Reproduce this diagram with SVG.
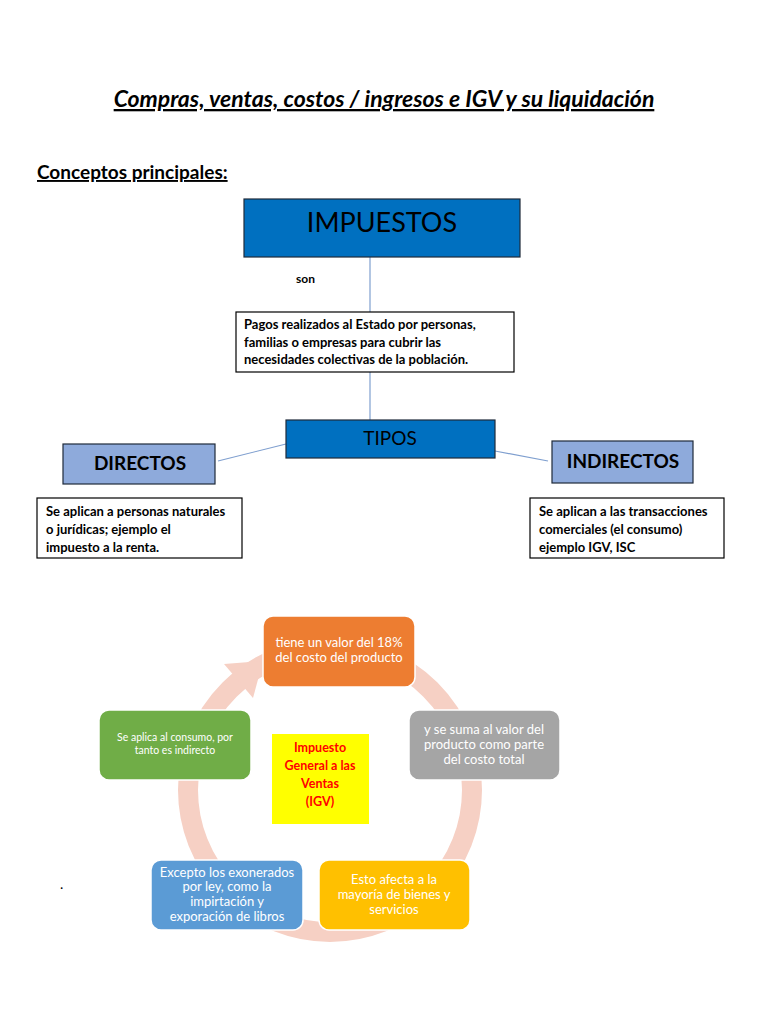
<svg xmlns="http://www.w3.org/2000/svg" width="768" height="1024" viewBox="0 0 768 1024">
<style>
text{font-family:Lato,"Open Sans","Liberation Sans",sans-serif;}
.dark{fill:#0070c0;stroke:#1f2a3a;stroke-width:1.2;}
.light{fill:#8eaadb;stroke:#1f2a3a;stroke-width:1.2;}
.wbox{fill:#fff;stroke:#000;stroke-width:1.2;}
.desc{font-size:13px;font-weight:bold;fill:#000;}
.conn{stroke:#7f9fcf;stroke-width:1.2;fill:none;}
.cyc{stroke:#fff;stroke-width:1.5;}
.ct{font-size:13px;fill:#fff;text-anchor:middle;}
.cs{font-size:10.5px;fill:#fff;text-anchor:middle;}
</style>
<rect width="768" height="1024" fill="#fff"/>
<text x="384" y="107" text-anchor="middle" font-size="23" font-weight="bold" font-style="italic" text-decoration="underline">Compras, ventas, costos / ingresos e IGV y su liquidación</text>
<text x="37" y="179" font-size="19" font-weight="bold" text-decoration="underline">Conceptos principales:</text>
<g id="connectors">
<line class="conn" x1="370" y1="257" x2="370" y2="312"/>
<line class="conn" x1="370" y1="372" x2="370" y2="420"/>
<line class="conn" x1="218" y1="461" x2="286" y2="444"/>
<line class="conn" x1="495" y1="451" x2="548" y2="461"/>
</g>
<text x="296" y="283" font-size="12" font-weight="bold">son</text>
<g id="impuestos"><rect class="dark" x="244" y="199" width="276" height="58"/><text x="382" y="232" text-anchor="middle" font-size="27" fill="#000">IMPUESTOS</text></g>
<g id="pagos"><rect class="wbox" x="236" y="312" width="278" height="60"/>
<text class="desc" x="244" y="329">Pagos realizados al Estado por personas,</text>
<text class="desc" x="244" y="347">familias o empresas para cubrir las</text>
<text class="desc" x="244" y="364">necesidades colectivas de la población.</text></g>
<g id="tipos"><rect class="dark" x="286" y="420" width="209" height="38"/><text x="390" y="445" text-anchor="middle" font-size="19" fill="#000">TIPOS</text></g>
<g id="directos"><rect class="light" x="63" y="444" width="152" height="40"/><text x="140" y="470" text-anchor="middle" font-size="19" font-weight="bold" fill="#000">DIRECTOS</text></g>
<g id="indirectos"><rect class="light" x="552" y="441" width="141" height="42"/><text x="623" y="468" text-anchor="middle" font-size="19" font-weight="bold" fill="#000">INDIRECTOS</text></g>
<g id="directos-desc"><rect class="wbox" x="37" y="498" width="205" height="60"/>
<text class="desc" x="46" y="516">Se aplican a personas naturales</text>
<text class="desc" x="46" y="534">o jurídicas; ejemplo el</text>
<text class="desc" x="46" y="552">impuesto a la renta.</text></g>
<g id="indirectos-desc"><rect class="wbox" x="530" y="498" width="194" height="60"/>
<text class="desc" x="539" y="516">Se aplican a las transacciones</text>
<text class="desc" x="539" y="534">comerciales (el consumo)</text>
<text class="desc" x="539" y="552">ejemplo IGV, ISC</text></g>
<g id="ring">
<circle cx="330" cy="790" r="142" fill="none" stroke="#f6d0c4" stroke-width="20"/>
<polygon points="224,664 253,698 263,661" fill="#f6d0c4"/>
</g>
<g id="c-top"><rect class="cyc" x="263" y="616" width="152" height="71" rx="10" fill="#ed7d31"/>
<text class="ct" x="339" y="647">tiene un valor del 18%</text><text class="ct" x="339" y="662">del costo del producto</text></g>
<g id="c-right"><rect class="cyc" x="409" y="710" width="151" height="70" rx="10" fill="#a5a5a5"/>
<text class="ct" x="484" y="734">y se suma al valor del</text><text class="ct" x="484" y="749">producto como parte</text><text class="ct" x="484" y="764">del costo total</text></g>
<g id="c-bright"><rect class="cyc" x="319" y="860" width="151" height="70" rx="10" fill="#ffc000"/>
<text class="ct" x="394" y="884">Esto afecta a la</text><text class="ct" x="394" y="899">mayoría de bienes y</text><text class="ct" x="394" y="914">servicios</text></g>
<g id="c-bleft"><rect class="cyc" x="151" y="860" width="152" height="70" rx="10" fill="#5b9bd5"/>
<text class="ct" x="227" y="877">Excepto los exonerados</text><text class="ct" x="227" y="891">por ley, como la</text><text class="ct" x="227" y="906">impirtación y</text><text class="ct" x="227" y="921">exporación de libros</text></g>
<g id="c-left"><rect class="cyc" x="99" y="710" width="152" height="70" rx="10" fill="#70ad47"/>
<text class="cs" x="175" y="741">Se aplica al consumo, por</text><text class="cs" x="175" y="754">tanto es indirecto</text></g>
<g id="igv"><rect x="272" y="734" width="97" height="90" fill="#ffff00"/>
<g font-size="12.5" font-weight="bold" fill="#ff0000" text-anchor="middle">
<text x="320" y="752">Impuesto</text><text x="320" y="770">General a las</text><text x="320" y="788">Ventas</text><text x="320" y="806">(IGV)</text></g></g>
<text x="60" y="889" font-size="14">.</text>
</svg>
